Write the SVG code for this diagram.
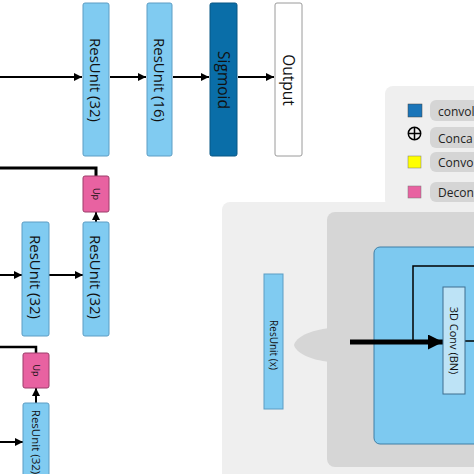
<svg xmlns="http://www.w3.org/2000/svg" width="474" height="474" viewBox="0 0 474 474">
<defs>
<style>
.res{fill:#80cbf1;stroke:#5c9dc4;stroke-width:1}
.sig{fill:#0a6ea8;stroke:#075684;stroke-width:1}
.out{fill:#ffffff;stroke:#9a9a9a;stroke-width:1}
.up{fill:#e862a1;stroke:#9c3d6a;stroke-width:1}
.t{font-family:"Open Sans","Noto Sans",sans-serif;fill:#111;text-anchor:middle;dominant-baseline:central}
.c{stroke:#000;stroke-width:2;fill:none}
.pill{fill:#d5d5d5}
.lt{font-family:"Open Sans","Noto Sans",sans-serif;font-size:12px;fill:#222}
</style>
<marker id="ah" viewBox="0 0 10 10" refX="10" refY="5" markerWidth="4" markerHeight="4" orient="auto" markerUnits="strokeWidth">
<path d="M0,0 L10,5 L0,10 z" fill="#000"/>
</marker>
<marker id="ahb" viewBox="0 0 10 10" refX="10" refY="5" markerWidth="3.2" markerHeight="3" orient="auto" markerUnits="strokeWidth">
<path d="M0,0 L10,5 L0,10 z" fill="#000"/>
</marker>
</defs>
<rect width="474" height="474" fill="#ffffff"/>

<!-- panels -->
<g id="legend">
<rect x="385" y="86" width="100" height="122" rx="8" fill="#efefef"/>
<rect x="408" y="104" width="14" height="13" fill="#1a75b9" stroke="#444" stroke-width="0.5"/>
<rect class="pill" x="430" y="100" width="60" height="21" rx="6"/>
<text class="lt" x="438" y="111" dominant-baseline="central">convol</text>
<circle cx="414.5" cy="133.5" r="6.2" fill="none" stroke="#000" stroke-width="1.5"/>
<line x1="408.3" y1="133.5" x2="420.7" y2="133.5" stroke="#000" stroke-width="1.5"/>
<line x1="414.5" y1="127.3" x2="414.5" y2="139.7" stroke="#000" stroke-width="1.5"/>
<rect class="pill" x="430" y="127" width="60" height="21" rx="6"/>
<text class="lt" x="438" y="138" dominant-baseline="central">Conca</text>
<rect x="408" y="156" width="13" height="12" fill="#ffff00" stroke="#777" stroke-width="0.5"/>
<rect class="pill" x="430" y="152" width="60" height="20" rx="6"/>
<text class="lt" x="438" y="162" dominant-baseline="central">Convo</text>
<rect x="408" y="186" width="13" height="12" fill="#e862a1" stroke="#777" stroke-width="0.5"/>
<rect class="pill" x="430" y="182" width="60" height="20" rx="6"/>
<text class="lt" x="438" y="192" dominant-baseline="central">Decon</text>
</g>

<g id="detail-panel">
<rect x="222" y="202" width="270" height="290" rx="8" fill="#efefef"/>
<rect x="327" y="212" width="160" height="255" rx="8" fill="#d6d6d6"/>
<path d="M330,328 C310,330 296,337 294,345 C296,353 310,360 330,362 Z" fill="#d6d6d6"/>
</g>

<!-- connectors -->
<g id="connectors">
<line class="c" x1="0" y1="77" x2="82" y2="77" marker-end="url(#ah)"/>
<line class="c" x1="110" y1="77" x2="146" y2="77" marker-end="url(#ah)"/>
<line class="c" x1="173" y1="77" x2="209" y2="77" marker-end="url(#ah)"/>
<line class="c" x1="238" y1="77" x2="274" y2="77" marker-end="url(#ah)"/>
<polyline points="0,168 96,168 96,176" fill="none" stroke="#000" stroke-width="3"/>
<line class="c" x1="96" y1="222" x2="96" y2="212" marker-end="url(#ah)"/>
<line class="c" x1="0" y1="275" x2="22" y2="275" marker-end="url(#ah)"/>
<line class="c" x1="49" y1="275" x2="83" y2="275" marker-end="url(#ah)"/>
<polyline points="0,347 36,347 36,353" fill="none" stroke="#000" stroke-width="2.5"/>
<line class="c" x1="36" y1="403" x2="36" y2="388" marker-end="url(#ah)"/>
<line class="c" x1="0" y1="442" x2="23" y2="442" marker-end="url(#ah)"/>
</g>

<!-- top row -->
<g id="resunit32-top"><rect class="res" x="83" y="3" width="26" height="153" rx="2"/><text class="t" font-size="15" transform="translate(96,80) rotate(90)">ResUnit (32)</text></g>
<g id="resunit16-top"><rect class="res" x="147" y="3" width="25" height="153" rx="2"/><text class="t" font-size="15" transform="translate(159.5,80) rotate(90)">ResUnit (16)</text></g>
<g id="sigmoid"><rect class="sig" x="210" y="3" width="27" height="153" rx="2"/><text class="t" font-size="15.5" transform="translate(223.5,80) rotate(90)">Sigmoid</text></g>
<g id="output"><rect class="out" x="275" y="3" width="27" height="153" rx="2"/><text class="t" font-size="15.5" transform="translate(288.5,80) rotate(90)">Output</text></g>

<!-- middle row -->
<g id="up-1"><rect class="up" x="83" y="176" width="26" height="36" rx="2"/><text class="t" font-size="9" transform="translate(96,194) rotate(90)">Up</text></g>
<g id="resunit32-mid-left"><rect class="res" x="22" y="222" width="27" height="114" rx="2"/><text class="t" font-size="15" transform="translate(35.5,277) rotate(90)">ResUnit (32)</text></g>
<g id="resunit32-mid-right"><rect class="res" x="83" y="222" width="26" height="114" rx="2"/><text class="t" font-size="15" transform="translate(96,277) rotate(90)">ResUnit (32)</text></g>

<!-- lower row -->
<g id="up-2"><rect class="up" x="23" y="353" width="26" height="35" rx="2"/><text class="t" font-size="9" transform="translate(36,370.5) rotate(90)">Up</text></g>
<g id="resunit32-bottom"><rect class="res" x="23" y="403" width="26" height="80" rx="2"/><text class="t" font-size="11.5" transform="translate(36,442) rotate(90)" text-anchor="middle">ResUnit (32)</text></g>

<!-- detail -->
<g id="resunit-x"><rect class="res" x="264" y="274" width="19" height="135"/><text class="t" font-size="10" transform="translate(273.5,345) rotate(90)">ResUnit (x)</text></g>
<g id="resunit-inner">
<rect x="374" y="247" width="120" height="197" rx="6" fill="#7dc9f0" stroke="#3f7fa6" stroke-width="1"/>
<polyline points="474,266 413,266 413,341" fill="none" stroke="#000" stroke-width="1.5"/>
<line x1="465" y1="341" x2="474" y2="341" stroke="#000" stroke-width="1.5"/>
<line x1="350" y1="342" x2="443" y2="342" stroke="#000" stroke-width="5" marker-end="url(#ahb)"/>
</g>
<g id="conv3d-bn"><rect x="443" y="287" width="22" height="107" fill="#bde3f6" stroke="#3f6f8f" stroke-width="1"/><text class="t" font-size="11" transform="translate(454,340.5) rotate(90)">3D Conv (BN)</text></g>
</svg>
